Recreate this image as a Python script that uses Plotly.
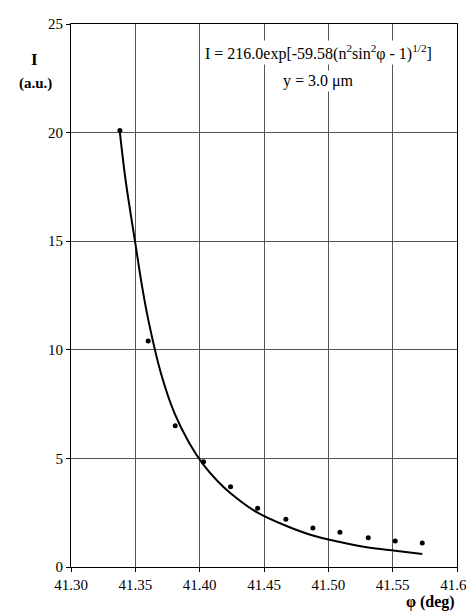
import plotly.graph_objects as go

phi_pts = [41.338, 41.360, 41.381, 41.403, 41.424, 41.445, 41.467, 41.488, 41.509, 41.531, 41.552, 41.573]
I_pts = [20.1, 10.4, 6.5, 4.85, 3.7, 2.7, 2.2, 1.8, 1.6, 1.35, 1.2, 1.1]
phi_fit = [41.338, 41.342, 41.346, 41.350, 41.355, 41.360, 41.370, 41.381, 41.392, 41.403, 41.414, 41.424, 41.445, 41.467, 41.488, 41.509, 41.531, 41.552, 41.573]
I_fit = [20.0, 18.0, 16.4, 14.9, 13.0, 11.4, 8.9, 7.0, 5.7, 4.7, 3.95, 3.4, 2.5, 1.9, 1.45, 1.15, 0.9, 0.75, 0.6]
x_ticks = [41.30, 41.35, 41.40, 41.45, 41.50, 41.55, 41.60]
y_ticks = [0, 5, 10, 15, 20, 25]

font = "Liberation Serif"
fig = go.Figure()
fig.add_trace(go.Scatter(x=phi_fit, y=I_fit, mode="lines", line=dict(color="black", width=2, shape="spline")))
fig.add_trace(go.Scatter(x=phi_pts, y=I_pts, mode="markers", marker=dict(color="black", size=5)))
ax = dict(showline=True, linecolor="black", linewidth=1, mirror=True, gridcolor="#555", gridwidth=1,
          ticks="outside", ticklen=4, tickcolor="black", zeroline=False)
fig.update_xaxes(range=[41.30, 41.60], tickvals=x_ticks, ticktext=[f"{v:.2f}" for v in x_ticks], **ax)
fig.update_yaxes(range=[0, 25], tickvals=y_ticks, **ax)
fig.update_layout(width=474, height=613, showlegend=False, plot_bgcolor="white", paper_bgcolor="white",
                  margin=dict(l=63, r=17, t=8, b=54), font=dict(family=font, size=15, color="black"),
                  annotations=[
                      dict(xref="paper", yref="paper", x=-0.11, y=0.955, text="<b>I</b>", showarrow=False, font=dict(size=17)),
                      dict(xref="paper", yref="paper", x=-0.14, y=0.91, text="<b>(a.u.)</b>", showarrow=False, font=dict(size=15)),
                      dict(xref="paper", yref="paper", x=1.0, y=-0.085, xanchor="right", text="<b>φ (deg)</b>", showarrow=False, font=dict(size=16)),
                      dict(xref="paper", yref="paper", x=0.64, y=0.97, text="I = 216.0exp[-59.58(n<sup>2</sup>sin<sup>2</sup>φ - 1)<sup>1/2</sup>]", showarrow=False, font=dict(size=16), bgcolor="white"),
                      dict(xref="paper", yref="paper", x=0.64, y=0.915, text="y = 3.0 μm", showarrow=False, font=dict(size=16), bgcolor="white"),
                  ])
fig.write_html("out.html")
